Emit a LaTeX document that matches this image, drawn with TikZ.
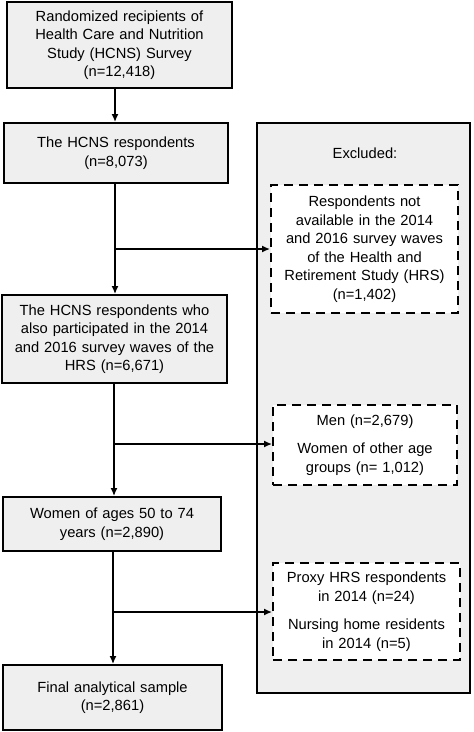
\documentclass[tikz,border=0pt]{standalone}
\usepackage{fontspec}
\setmainfont{Liberation Sans}
\usetikzlibrary{arrows.meta}
\definecolor{boxgray}{HTML}{EFEFEF}
\tikzset{
  x=1pt,y=1pt,
  mainbox/.style={draw=black,line width=2pt,fill=boxgray,align=center,inner sep=0pt,
     font=\fontsize{14.7}{18.5}\selectfont},
  exbox/.style={draw=black,line width=2pt,fill=white,dash pattern=on 9pt off 6pt,align=center,inner sep=0pt,
     font=\fontsize{14.7}{18.5}\selectfont},
  arr/.style={line width=1.4pt,-{Latex[length=8pt,width=7pt]}},
  ln/.style={line width=1.4pt}
}
\begin{document}
\begin{tikzpicture}
\useasboundingbox (0,0) rectangle (474,-732);
% gray excluded panel
\node[draw=black,line width=1.5pt,fill=boxgray,minimum width=213pt,minimum height=570pt,inner sep=0pt] (panel) at (363.5,-408) {};
\node[font=\fontsize{14.7}{18.5}\selectfont] (exlab) at (365,-153) {Excluded:};
% main boxes
\node[mainbox,minimum width=225pt,minimum height=86pt,text width=215pt] (b1) at (119.5,-45)
  {Randomized recipients of\\Health Care and Nutrition\\Study (HCNS) Survey\\(n=12,418)};
\node[mainbox,minimum width=224pt,minimum height=60pt,text width=215pt] (b2) at (116,-153)
  {The HCNS respondents\\(n=8,073)\\[6pt]};
\node[mainbox,minimum width=225pt,minimum height=88pt,text width=215pt] (b3) at (114.5,-339)
  {The HCNS respondents who\\also participated in the 2014\\and 2016 survey waves of the\\HRS (n=6,671)};
\node[mainbox,minimum width=218pt,minimum height=54pt,text width=210pt] (b4) at (112,-524)
  {Women of ages 50 to 74\\years (n=2,890)\\[4pt]};
\node[mainbox,minimum width=219pt,minimum height=65pt,text width=210pt] (b5) at (112.5,-697.5)
  {Final analytical sample\\(n=2,861)\\[6pt]};
% excluded boxes
\node[exbox,minimum width=187pt,minimum height=128pt,text width=180pt] (d1) at (364.5,-249)
  {Respondents not\\available in the 2014\\and 2016 survey waves\\of the Health and\\Retirement Study (HRS)\\(n=1,402)\\[4pt]};
\node[exbox,minimum width=184pt,minimum height=80pt,text width=178pt] (d2) at (365,-445)
  {Men (n=2,679)\\[10pt]Women of other age\\groups (n= 1,012)};
\node[exbox,minimum width=187pt,minimum height=97pt,text width=180pt] (d3) at (366.5,-611.5)
  {Proxy HRS respondents\\in 2014 (n=24)\\[10pt]Nursing home residents\\in 2014 (n=5)\\[2pt]};
% connectors
\coordinate (t1) at (115,-249);
\coordinate (t2) at (114,-444);
\coordinate (t3) at (113,-612);
\draw[arr] (b1.south -| t1) -- (b2.north -| t1);
\draw[arr] (b2.south -| t1) -- (b3.north -| t1);
\draw[arr] (t1) -- (d1.west |- t1);
\draw[arr] (b3.south -| t2) -- (b4.north -| t2);
\draw[arr] (t2) -- (d2.west |- t2);
\draw[arr] (b4.south -| t3) -- (b5.north -| t3);
\draw[arr] (t3) -- (d3.west |- t3);
\end{tikzpicture}
\end{document}
